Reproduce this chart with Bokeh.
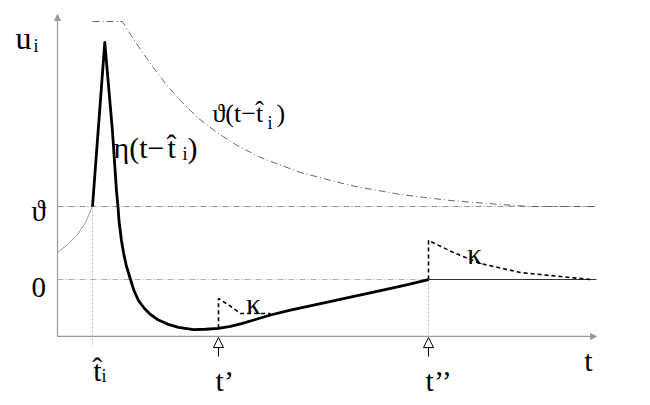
from bokeh.plotting import figure
from bokeh.models import Range1d, Arrow, NormalHead
from bokeh.core.properties import value
from bokeh.embed import file_html
from bokeh.resources import INLINE

# ---- data (time in units, potential in units of threshold) ----
t_hat = 0.0
t_p1 = 3.0
t_p2 = 8.0
theta = 1.0
axis_t0, axis_t1 = -0.833, 12.0
axis_u0, axis_u1 = -0.78, 3.63

# membrane potential after the spike (eta kernel + recovery)
eta_t = [0.0, 0.293, 0.476, 0.571, 0.607, 0.631, 0.690, 0.738, 0.810, 0.905,
         0.988, 1.095, 1.238, 1.381, 1.571, 1.786, 2.048, 2.405, 2.690, 3.0,
         3.286, 3.571, 3.881, 4.238, 4.714, 5.429, 6.143, 6.857, 7.452, 8.0]
eta_u = [1.0, 3.247, 2.027, 1.219, 1.0, 0.808, 0.534, 0.370, 0.178, 0.0,
         -0.151, -0.288, -0.397, -0.479, -0.555, -0.610, -0.655, -0.685,
         -0.681, -0.668, -0.641, -0.600, -0.548, -0.486, -0.418, -0.329,
         -0.240, -0.151, -0.077, 0.0]

# potential before the spike
pre_t = [-0.833, -0.595, -0.357, -0.167, 0.0]
pre_u = [0.37, 0.48, 0.616, 0.78, 1.0]

# dynamic threshold
thr_t = [0.0, 0.714, 0.905, 1.143, 1.429, 1.738, 2.095, 2.5, 2.929, 3.405,
         4.0, 4.952, 6.143, 7.333, 8.524, 9.714, 10.43, 12.0]
thr_u = [3.534, 3.534, 3.356, 3.151, 2.918, 2.685, 2.452, 2.219, 2.027, 1.849,
         1.671, 1.466, 1.288, 1.164, 1.082, 1.027, 1.0, 1.0]

# kappa responses
k1_t = [3.0, 3.0, 3.262, 3.524, 4.238]
k1_u = [-0.668, -0.26, -0.356, -0.466, -0.466]
k2_t = [8.0, 8.0, 8.595, 9.238, 10.19, 11.14, 11.86]
k2_u = [0.0, 0.534, 0.37, 0.219, 0.096, 0.041, 0.0]

# labels (grouped by font size)
big_text = ["u"]
big_x = [-1.833]
big_y = [3.315]
tl_text = ["t\u0302", "t\u2019", "t\u2019\u2019", "t"]
tl_x = [0.02, 2.93, 7.93, 11.71]
tl_y = [-1.247, -1.384, -1.384, -1.11]
sym_text = ["\u03d1", "0", "\u03ba", "\u03ba"]
sym_x = [-1.45, -1.45, 3.66, 8.92]
sym_y = [0.945, -0.11, -0.329, 0.356]
mid_text = ["\u03d1(t\u2212t\u0302", ")"]
mid_x = [2.857, 4.381]
mid_y = [2.274, 2.274]
eta_text = ["\u03b7(t\u2212", "t\u0302", ")"]
eta_x = [0.5, 1.786, 2.262]
eta_y = [1.808, 1.808, 1.808]
sub_text = ["i", "i", "i", "i"]
sub_x = [-1.405, 0.214, 2.143, 4.167]
sub_y = [3.205, -1.315, 1.726, 2.15]

FONT = "Liberation Serif"

p = figure(width=642, height=397, x_range=Range1d(-2.190, 13.095),
           y_range=Range1d(-1.616, 3.822), output_backend="svg",
           toolbar_location=None, x_axis_location=None, y_axis_location=None,
           min_border=0)
p.grid.visible = False
p.outline_line_color = None
p.background_fill_color = "white"

gray = "#9a9a9a"
# axes with arrows
p.add_layout(Arrow(x_start=axis_t0, y_start=axis_u0, x_end=axis_t1, y_end=axis_u0,
                   line_color=gray, line_width=1.2,
                   end=NormalHead(size=6, fill_color=gray, line_color=gray)))
p.add_layout(Arrow(x_start=axis_t0, y_start=axis_u0, x_end=axis_t0, y_end=axis_u1,
                   line_color=gray, line_width=1.2,
                   end=NormalHead(size=6, fill_color=gray, line_color=gray)))

# reference lines
p.line([axis_t0, axis_t1], [theta, theta], line_color="#777777", line_width=0.8,
       line_dash="6 2 1 2")
p.line([axis_t0, t_p2 + 0.5], [0, 0], line_color="#999999", line_width=0.8,
       line_dash="6 2 1 2")
p.line([t_hat, t_hat], [theta, -0.904], line_color="#aaaaaa", line_width=0.8,
       line_dash="2 2")
p.line([t_p2, t_p2], [0, axis_u0], line_color="#aaaaaa", line_width=0.8,
       line_dash="2 2")

# threshold
p.line(thr_t, thr_u, line_color="#555555", line_width=0.9, line_dash="7 3 1 3")
# pre-spike potential
p.line(pre_t, pre_u, line_color="#999999", line_width=1)
# potential
p.line([t_p2, axis_t1], [0, 0], line_color="#333333", line_width=1.2)
p.line(eta_t, eta_u, line_color="black", line_width=2.8, line_join="round")
# kappa
p.line(k1_t, k1_u, line_color="black", line_width=1.6, line_dash="4 3")
p.line(k2_t, k2_u, line_color="black", line_width=1.6, line_dash="4 3")

# input spike arrows
for tx in (t_p1, t_p2):
    p.add_layout(Arrow(x_start=tx, y_start=-1.055, x_end=tx, y_end=-0.795,
                       line_color="black", line_width=1,
                       end=NormalHead(size=10, fill_color="white",
                                      line_color="black", line_width=1)))

for xs, ys, ts, size in ((big_x, big_y, big_text, "32px"),
                         (tl_x, tl_y, tl_text, "30px"),
                         (sym_x, sym_y, sym_text, "29px"),
                         (mid_x, mid_y, mid_text, "26px"),
                         (eta_x, eta_y, eta_text, "30px"),
                         (sub_x, sub_y, sub_text, "18px")):
    p.text(xs, ys, text=ts, text_font=value(FONT), text_font_size=size,
           text_align="left", text_baseline="alphabetic", text_color="black")

open("out.html", "w").write(file_html(p, INLINE))
